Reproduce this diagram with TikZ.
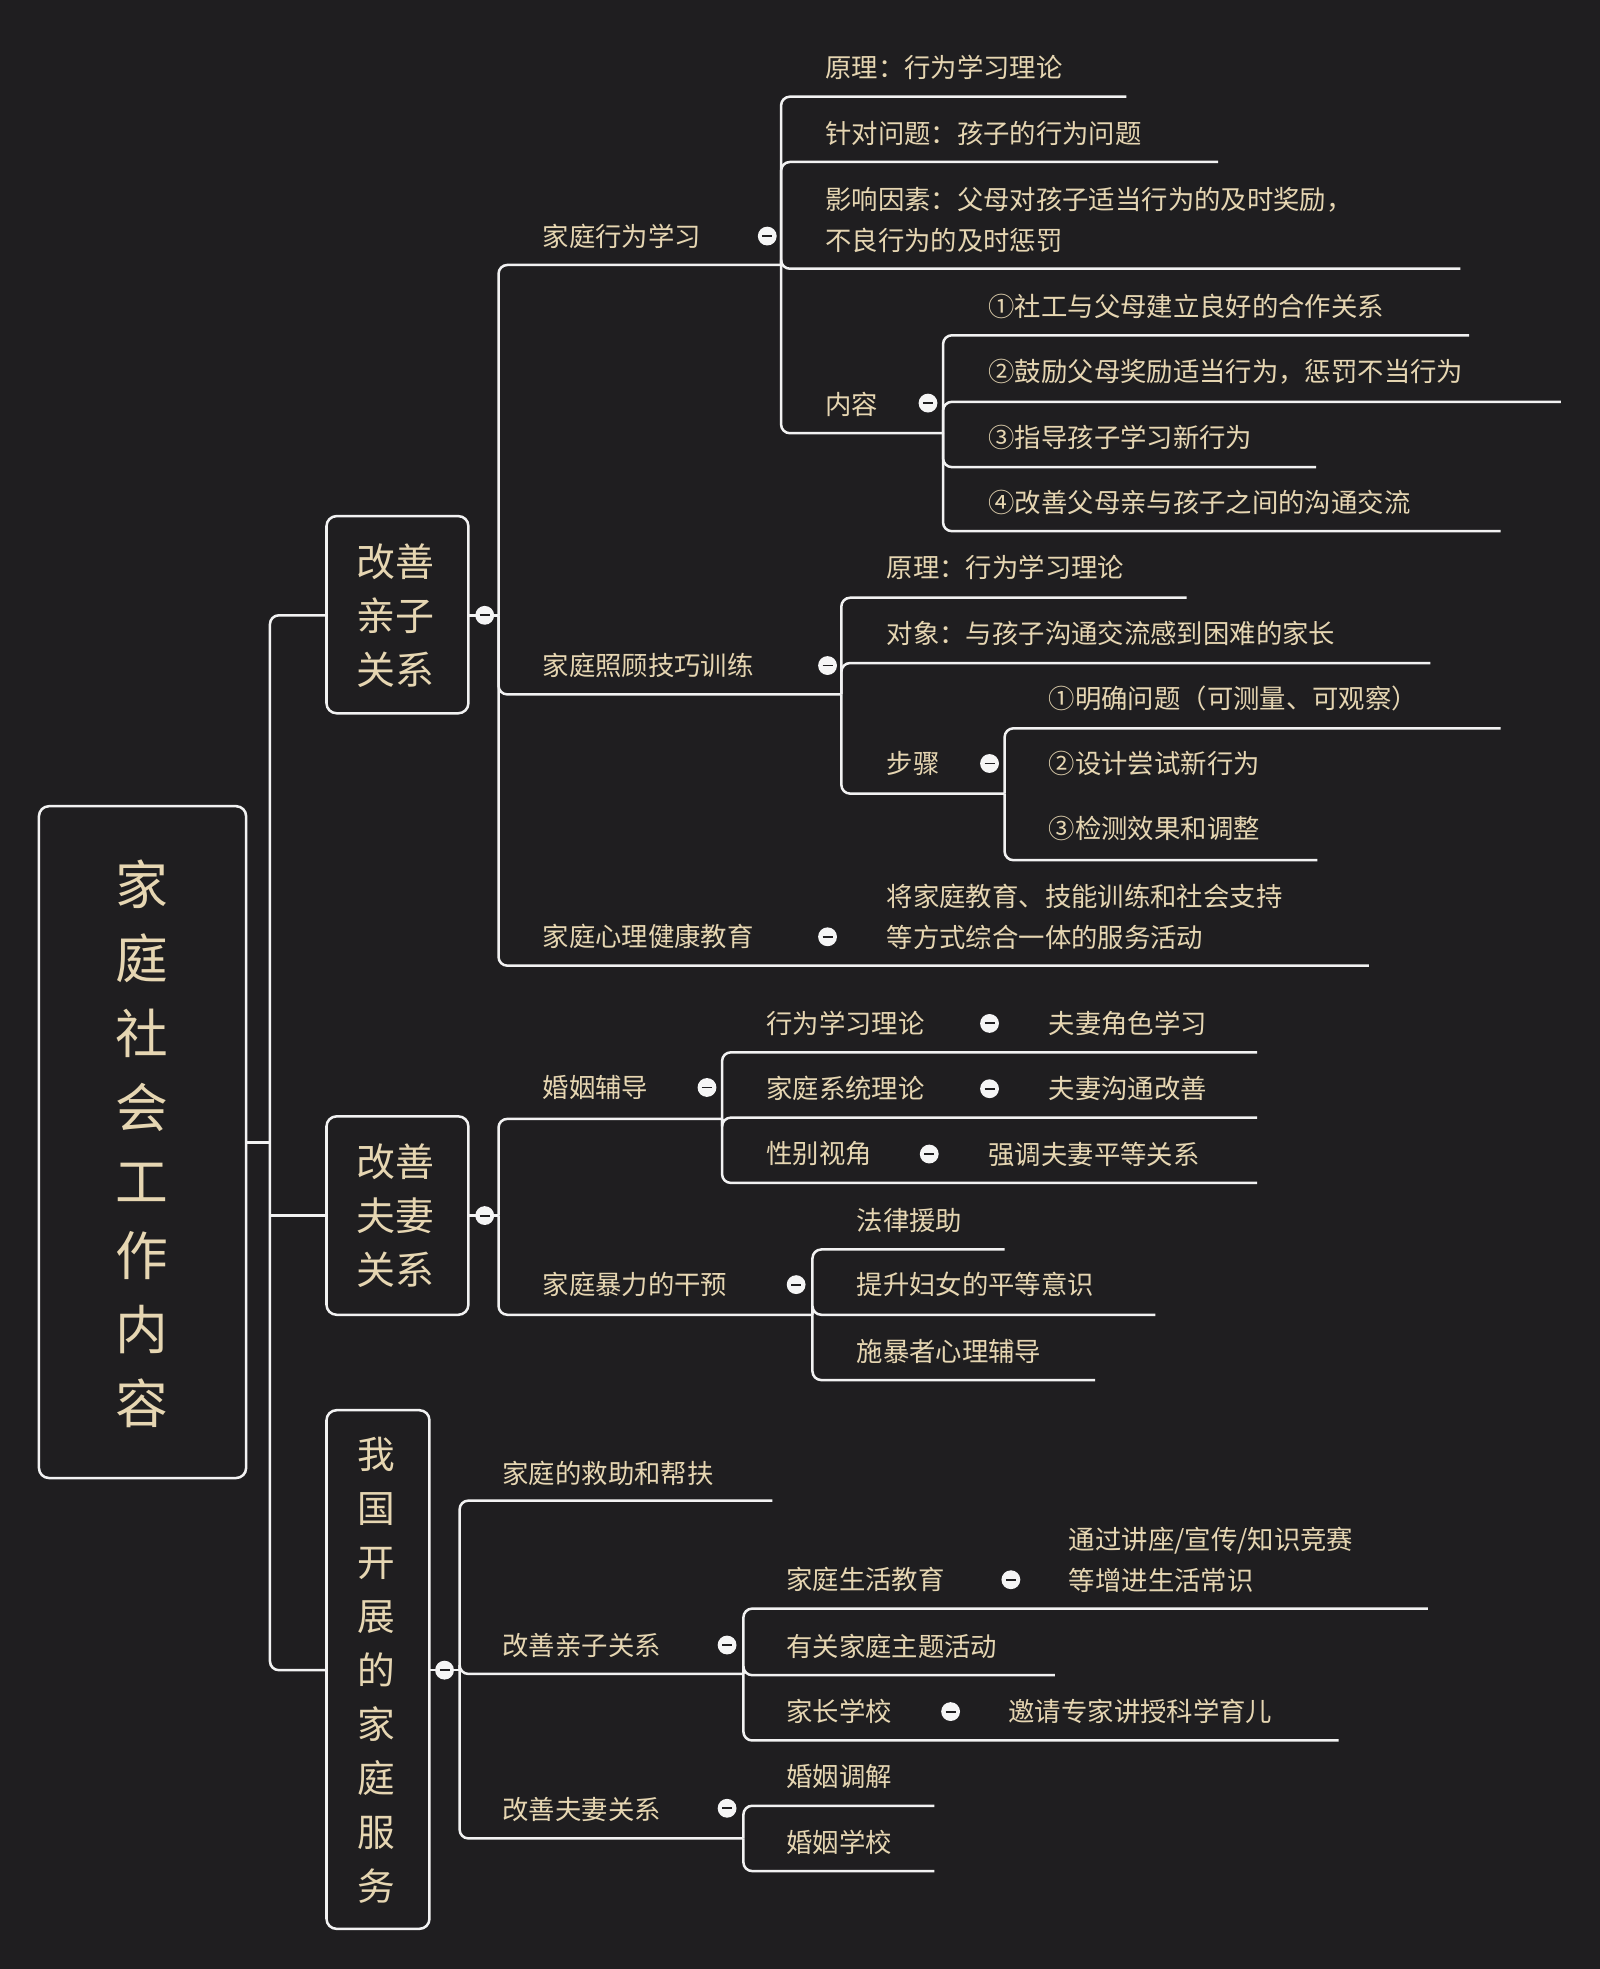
\documentclass[tikz,border=0pt]{standalone}
\usepackage{fontspec}
\setmainfont{Noto Sans CJK SC}
\begin{document}
\begin{tikzpicture}[x=1pt,y=-1pt,
  ln/.style={draw=white!90!gray,line width=2pt,rounded corners=7pt},
  tx/.style={anchor=west,text=txtc,font=\fontsize{21}{33}\selectfont,inner sep=0pt,align=left},
  bx/.style={draw=white!90!gray,line width=2pt,rounded corners=8pt,fill=bgc},
  bt/.style={text=txtc,font=\fontsize{31}{43}\selectfont,align=center,inner sep=0pt},
  cc/.style={circle,fill=white!92!gray,minimum size=15pt,inner sep=0pt,
    path picture={\draw[bgc,line width=1.5pt] ([xshift=-4pt]path picture bounding box.center) -- ([xshift=4pt]path picture bounding box.center);}}]
\definecolor{bgc}{HTML}{1F1E20}
\definecolor{txtc}{HTML}{E6D6B2}
\fill[bgc] (0,0) rectangle (1274,1568);
\useasboundingbox (0,0) rectangle (1274,1568);
\newcommand\lf[4]{\draw[ln] (#1,#2) |- (#4,#3);}
% root
\draw[ln] (196,910) -- (215,910);
\draw[ln] (260,490) -| (215,1330) -- (260,1330);
\draw[ln] (215,968) -- (260,968);
\draw[bx] (31,642) rectangle (196,1177);
\node[bt,font=\fontsize{42}{59}\selectfont] (root) at (113,911) {家\\庭\\社\\会\\工\\作\\内\\容};
% box1
\draw[bx] (260,411) rectangle (373,568);
\node[bt] (b1) at (315,490) {改善\\亲子\\关系};
\draw[ln] (373,490) -- (397,490);
\lf{397}{490}{211}{622} \lf{397}{490}{553}{670} \lf{397}{490}{769}{1090}
\node[cc] (c1) at (386,490) {};
\node[tx] (a1) at (432,188) {家庭行为学习}; \node[cc] at (611,188) {};
\lf{622}{211}{77}{897} \lf{622}{211}{129}{970} \lf{622}{211}{214}{1163} \lf{622}{211}{345}{751}
\node[tx] at (657,54) {原理：行为学习理论};
\node[tx] at (657,106) {针对问题：孩子的行为问题};
\node[tx] at (657,175) {影响因素：父母对孩子适当行为的及时奖励，\\不良行为的及时惩罚};
\node[tx] (nr) at (657,322) {内容}; \node[cc] at (739,321) {};
\lf{751}{345}{267}{1170} \lf{751}{345}{320}{1243} \lf{751}{345}{372}{1048} \lf{751}{345}{423}{1195}
\node[tx] at (787,244) {①社工与父母建立良好的合作关系};
\node[tx] at (787,296) {②鼓励父母奖励适当行为，惩罚不当行为};
\node[tx] at (787,348) {③指导孩子学习新行为};
\node[tx] at (787,400) {④改善父母亲与孩子之间的沟通交流};
\node[tx] (a2) at (432,530) {家庭照顾技巧训练}; \node[cc] at (659,530) {};
\lf{670}{553}{476}{945} \lf{670}{553}{528}{1139} \lf{670}{553}{632}{800}
\node[tx] at (706,452) {原理：行为学习理论};
\node[tx] at (706,504) {对象：与孩子沟通交流感到困难的家长};
\node[tx] at (706,608) {步骤}; \node[cc] at (788,608) {};
\lf{800}{632}{580}{1195} \lf{800}{632}{685}{1049}
\node[tx] at (835,556) {①明确问题（可测量、可观察）};
\node[tx] at (835,608) {②设计尝试新行为};
\node[tx] at (835,660) {③检测效果和调整};
\node[tx] (a3) at (432,746) {家庭心理健康教育}; \node[cc] at (659,746) {};
\node[tx] at (706,730) {将家庭教育、技能训练和社会支持\\等方式综合一体的服务活动};
% box2
\draw[bx] (260,889) rectangle (373,1047);
\node[bt] (b2) at (315,968) {改善\\夫妻\\关系};
\draw[ln] (373,968) -- (397,968);
\lf{397}{968}{891}{575} \lf{397}{968}{1047}{647}
\node[cc] (c2) at (386,968) {};
\node[tx] at (432,866) {婚姻辅导}; \node[cc] at (563,866) {};
\lf{575}{891}{838}{1001} \lf{575}{891}{890}{1001} \lf{575}{891}{942}{1001}
\node[tx] at (610,815) {行为学习理论}; \node[cc] at (788,815) {}; \node[tx] at (835,815) {夫妻角色学习};
\node[tx] at (610,867) {家庭系统理论}; \node[cc] at (788,867) {}; \node[tx] at (835,867) {夫妻沟通改善};
\node[tx] at (610,919) {性别视角}; \node[cc] at (740,919) {}; \node[tx] at (787,919) {强调夫妻平等关系};
\node[tx] at (432,1023) {家庭暴力的干预}; \node[cc] at (634,1023) {};
\lf{647}{1047}{995}{800} \lf{647}{1047}{1047}{920} \lf{647}{1047}{1099}{872}
\node[tx] at (682,972) {法律援助};
\node[tx] at (682,1023) {提升妇女的平等意识};
\node[tx] at (682,1076) {施暴者心理辅导};
% box3
\draw[bx] (260,1123) rectangle (342,1536);
\node[bt,font=\fontsize{30}{43}\selectfont] (b3) at (300,1330) {我\\国\\开\\展\\的\\家\\庭\\服\\务};
\draw[ln] (342,1330) -- (366,1330);
\lf{366}{1330}{1195}{615} \lf{366}{1330}{1333}{592} \lf{366}{1330}{1464}{592}
\node[cc] (c3) at (354,1330) {};
\node[tx] at (400,1173) {家庭的救助和帮扶};
\node[tx] at (400,1310) {改善亲子关系}; \node[cc] at (579,1310) {};
\lf{592}{1333}{1281}{1137} \lf{592}{1333}{1334}{840} \lf{592}{1333}{1386}{1066}
\node[tx] at (626,1258) {家庭生活教育}; \node[cc] at (805,1258) {};
\node[tx] at (851,1242) {通过讲座/宣传/知识竞赛\\等增进生活常识};
\node[tx] at (626,1311) {有关家庭主题活动};
\node[tx] at (626,1363) {家长学校}; \node[cc] at (757,1363) {}; \node[tx] at (803,1363) {邀请专家讲授科学育儿};
\node[tx] at (400,1441) {改善夫妻关系}; \node[cc] at (579,1440) {};
\lf{592}{1464}{1438}{744} \lf{592}{1464}{1490}{744}
\node[tx] at (626,1415) {婚姻调解};
\node[tx] at (626,1467) {婚姻学校};
\end{tikzpicture}
\end{document}
